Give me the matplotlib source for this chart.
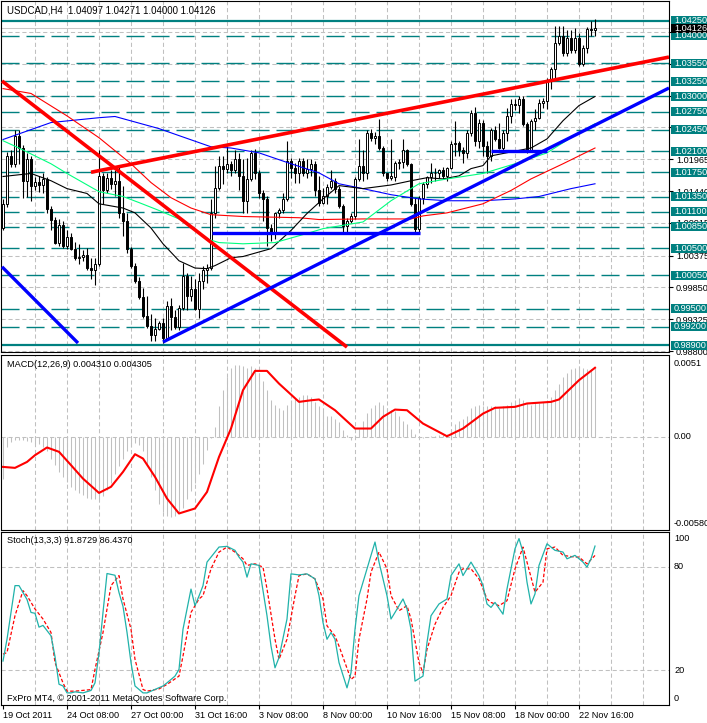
import numpy as np
import matplotlib.pyplot as plt
from matplotlib.patches import Rectangle
from matplotlib.transforms import blended_transform_factory, ScaledTranslation

plt.rcParams['font.family'] = ['Liberation Sans', 'DejaVu Sans']
plt.rcParams['lines.scale_dashes'] = False

# ---------------- price data (USDCAD H4) ----------------
opens = [1.0083, 1.0123, 1.0202, 1.0189, 1.0234, 1.0215, 1.0161, 1.0197, 1.0153, 1.0159,
         1.0154, 1.0164, 1.0115, 1.0097, 1.0059, 1.0088, 1.0054, 1.0069, 1.0049, 1.0034,
         1.0036, 1.0039, 1.0017, 1.0014, 1.0024, 1.0169, 1.0145, 1.0166, 1.0156, 1.0161,
         1.0107, 1.0095, 1.0049, 1.0021, 0.9996, 0.9970, 0.9938, 0.9922, 0.9907, 0.9917,
         0.9927, 0.9902, 0.9955, 0.9937, 0.9920, 0.9951, 1.0004, 0.9971, 0.9983, 0.9950,
         0.9996, 1.0013, 1.0017, 1.0107, 1.0149, 1.0186, 1.0181, 1.0189, 1.0179, 1.0197,
         1.0169, 1.0128, 1.0164, 1.0206, 1.0173, 1.0140, 1.0131, 1.0083, 1.0075, 1.0107,
         1.0112, 1.0131, 1.0194, 1.0182, 1.0173, 1.0194, 1.0173, 1.0181, 1.0189, 1.0145,
         1.0125, 1.0136, 1.0151, 1.0161, 1.0148, 1.0120, 1.0087, 1.0095, 1.0103, 1.0164,
         1.0186, 1.0173, 1.0240, 1.0232, 1.0235, 1.0215, 1.0173, 1.0166, 1.0168, 1.0191,
         1.0192, 1.0211, 1.0189, 1.0123, 1.0082, 1.0133, 1.0156, 1.0168, 1.0173, 1.0174,
         1.0178, 1.0169, 1.0182, 1.0222, 1.0224, 1.0212, 1.0207, 1.0239, 1.0273, 1.0227,
         1.0257, 1.0219, 1.0202, 1.0244, 1.0230, 1.0215, 1.0239, 1.0268, 1.0288, 1.0286,
         1.0296, 1.0255, 1.0211, 1.0260, 1.0265, 1.0290, 1.0293, 1.0326, 1.0346, 1.0389,
         1.0399, 1.0372, 1.0397, 1.0376, 1.0397, 1.0354, 1.0380, 1.0412, 1.04097]
highs = [1.0131, 1.0209, 1.0211, 1.0244, 1.0245, 1.0220, 1.0207, 1.0202, 1.0168, 1.0169,
         1.0174, 1.0168, 1.0120, 1.0102, 1.0098, 1.0095, 1.0079, 1.0074, 1.0060, 1.0057,
         1.0046, 1.0050, 1.0034, 1.0034, 1.0211, 1.0174, 1.0174, 1.0178, 1.0178, 1.0186,
         1.0153, 1.0108, 1.0052, 1.0026, 1.0003, 0.9984, 0.9971, 0.9942, 0.9935, 0.9930,
         0.9935, 0.9963, 0.9968, 0.9947, 0.9956, 1.0026, 1.0008, 1.0004, 0.9999, 1.0008,
         1.0021, 1.0024, 1.0131, 1.0186, 1.0202, 1.0202, 1.0219, 1.0194, 1.0211, 1.0207,
         1.0197, 1.0199, 1.0211, 1.0214, 1.0178, 1.0145, 1.0136, 1.0090, 1.0110, 1.0116,
         1.0141, 1.0227, 1.0199, 1.0191, 1.0199, 1.0199, 1.0197, 1.0197, 1.0194, 1.0169,
         1.0149, 1.0156, 1.0178, 1.0166, 1.0153, 1.0123, 1.0100, 1.0108, 1.0168, 1.0230,
         1.0211, 1.0244, 1.0247, 1.0242, 1.0263, 1.0219, 1.0174, 1.0230, 1.0194, 1.0197,
         1.0230, 1.0214, 1.0191, 1.0133, 1.0136, 1.0159, 1.0169, 1.0191, 1.0182, 1.0181,
         1.0184, 1.0184, 1.0227, 1.0260, 1.0227, 1.0217, 1.0244, 1.0277, 1.0283, 1.0263,
         1.0262, 1.0227, 1.0248, 1.0252, 1.0257, 1.0244, 1.0281, 1.0296, 1.0296, 1.0300,
         1.0301, 1.0258, 1.0263, 1.0280, 1.0296, 1.0298, 1.0331, 1.0349, 1.0417, 1.0417,
         1.0417, 1.0409, 1.0409, 1.0413, 1.0404, 1.0385, 1.0415, 1.0425, 1.04271]
lows = [1.0080, 1.0118, 1.0184, 1.0184, 1.0189, 1.0133, 1.0135, 1.0128, 1.0145, 1.0143,
        1.0141, 1.0108, 1.0079, 1.0057, 1.0054, 1.0050, 1.0049, 1.0046, 1.0031, 1.0024,
        1.0029, 1.0013, 0.9999, 0.9989, 1.0021, 1.0123, 1.0141, 1.0148, 1.0136, 1.0100,
        1.0070, 1.0041, 1.0017, 0.9993, 0.9966, 0.9935, 0.9918, 0.9897, 0.9897, 0.9914,
        0.9894, 0.9899, 0.9914, 0.9917, 0.9915, 0.9948, 0.9947, 0.9963, 0.9947, 0.9935,
        0.9983, 0.9993, 1.0013, 1.0100, 1.0145, 1.0156, 1.0174, 1.0169, 1.0174, 1.0145,
        1.0107, 1.0107, 1.0161, 1.0164, 1.0133, 1.0095, 1.0054, 1.0062, 1.0065, 1.0100,
        1.0107, 1.0128, 1.0166, 1.0158, 1.0158, 1.0169, 1.0166, 1.0169, 1.0136, 1.0120,
        1.0123, 1.0123, 1.0148, 1.0141, 1.0116, 1.0074, 1.0074, 1.0092, 1.0098, 1.0161,
        1.0161, 1.0164, 1.0227, 1.0222, 1.0211, 1.0169, 1.0161, 1.0163, 1.0161, 1.0181,
        1.0182, 1.0186, 1.0120, 1.0077, 1.0074, 1.0123, 1.0149, 1.0158, 1.0161, 1.0166,
        1.0164, 1.0161, 1.0181, 1.0202, 1.0202, 1.0191, 1.0199, 1.0235, 1.0219, 1.0215,
        1.0201, 1.0173, 1.0194, 1.0227, 1.0214, 1.0211, 1.0227, 1.0257, 1.0277, 1.0272,
        1.0252, 1.0207, 1.0211, 1.0244, 1.0263, 1.0281, 1.0280, 1.0313, 1.0331, 1.0385,
        1.0367, 1.0367, 1.0372, 1.0372, 1.0351, 1.0351, 1.0372, 1.0400, 1.04000]
closes = [1.0123, 1.0202, 1.0189, 1.0234, 1.0215, 1.0161, 1.0197, 1.0153, 1.0159, 1.0154,
          1.0164, 1.0115, 1.0097, 1.0059, 1.0088, 1.0054, 1.0069, 1.0049, 1.0034, 1.0036,
          1.0039, 1.0017, 1.0014, 1.0024, 1.0169, 1.0145, 1.0166, 1.0156, 1.0161, 1.0107,
          1.0095, 1.0049, 1.0021, 0.9996, 0.9970, 0.9938, 0.9922, 0.9907, 0.9917, 0.9927,
          0.9902, 0.9955, 0.9937, 0.9920, 0.9951, 1.0004, 0.9971, 0.9983, 0.9950, 0.9996,
          1.0013, 1.0017, 1.0107, 1.0149, 1.0186, 1.0181, 1.0189, 1.0179, 1.0197, 1.0169,
          1.0128, 1.0164, 1.0206, 1.0173, 1.0140, 1.0131, 1.0083, 1.0075, 1.0107, 1.0112,
          1.0131, 1.0194, 1.0182, 1.0173, 1.0194, 1.0173, 1.0181, 1.0189, 1.0145, 1.0125,
          1.0136, 1.0151, 1.0161, 1.0148, 1.0120, 1.0087, 1.0095, 1.0103, 1.0164, 1.0186,
          1.0173, 1.0240, 1.0232, 1.0235, 1.0215, 1.0173, 1.0166, 1.0168, 1.0191, 1.0192,
          1.0211, 1.0189, 1.0123, 1.0082, 1.0133, 1.0156, 1.0168, 1.0173, 1.0174, 1.0178,
          1.0169, 1.0182, 1.0222, 1.0224, 1.0212, 1.0207, 1.0239, 1.0273, 1.0227, 1.0257,
          1.0219, 1.0202, 1.0244, 1.0230, 1.0215, 1.0239, 1.0268, 1.0288, 1.0286, 1.0296,
          1.0255, 1.0211, 1.0260, 1.0265, 1.0290, 1.0293, 1.0326, 1.0346, 1.0389, 1.0399,
          1.0372, 1.0397, 1.0376, 1.0397, 1.0354, 1.0380, 1.0412, 1.0409, 1.04126]

# moving averages (bar index, price)
ma_blue_x = [0, 12, 24, 28, 39, 52, 57, 64, 72, 79, 84, 90, 97, 104, 111, 120, 128, 134, 142, 148]
ma_blue_y = [1.0229, 1.0257, 1.0265, 1.0267, 1.0247, 1.0217, 1.0215, 1.0207, 1.0189, 1.0174,
             1.0156, 1.0148, 1.0138, 1.0131, 1.0128, 1.0128, 1.0131, 1.0135, 1.0148, 1.0156]
ma_red_x = [0, 7, 16, 24, 32, 37, 42, 47, 52, 60, 74, 79, 90, 102, 105, 111, 120, 127, 132, 140, 148]
ma_red_y = [1.0313, 1.0305, 1.0268, 1.0232, 1.0189, 1.0158, 1.0133, 1.0116, 1.0105, 1.0102,
            1.0100, 1.0097, 1.0098, 1.0098, 1.0103, 1.0108, 1.0123, 1.0145, 1.0164, 1.0189, 1.0215]
ma_black_x = [0, 7, 12, 16, 21, 24, 30, 33, 37, 40, 44, 48, 51, 53, 57, 60, 67, 72, 76, 80,
              84, 90, 97, 102, 106, 110, 114, 117, 120, 122, 132, 136, 140, 144, 148]
ma_black_y = [1.0168, 1.0173, 1.0161, 1.0148, 1.0140, 1.0123, 1.0116, 1.0108, 1.0083, 1.0057,
              1.0029, 1.0017, 1.0016, 1.0021, 1.0034, 1.0036, 1.0049, 1.0079, 1.0107, 1.0131,
              1.0153, 1.0148, 1.0154, 1.0161, 1.0166, 1.0164, 1.0169, 1.0181, 1.0186, 1.0202,
              1.0215, 1.0230, 1.0260, 1.0285, 1.0300]
ma_green_x = [0, 4, 8, 12, 16, 20, 24, 30, 34, 39, 44, 48, 51, 54, 60, 68, 76, 80, 90, 97,
              104, 111, 120, 128, 136, 142, 148]
ma_green_y = [1.0227, 1.0215, 1.0202, 1.0189, 1.0173, 1.0158, 1.0143, 1.0135, 1.0125, 1.0112,
              1.0098, 1.0079, 1.0065, 1.0059, 1.0057, 1.0059, 1.0074, 1.0082, 1.0093, 1.0128,
              1.0156, 1.0164, 1.0173, 1.0189, 1.0207, 1.0232, 1.0255]

# horizontal levels, grid and trend lines
levels = [1.0425, 1.0400, 1.0355, 1.0325, 1.0300, 1.0275, 1.0245, 1.0210, 1.0175,
          1.0135, 1.0110, 1.0085, 1.0050, 1.0005, 0.9950, 0.9920, 0.9890]
solid_levels = [1.0425, 0.9890]
grid_prices = [0.98800, 0.99325, 0.99850, 1.00375, 1.00915, 1.01440, 1.01965,
               1.02490, 1.03015, 1.03540, 1.04065]
last_price = 1.04126
red_lines = [((-0.25, 1.03255), (86, 0.98866)), ((22, 1.0175), (166.5, 1.0365))]
blue_lines = [((-0.25, 1.0019), (18.75, 0.98933)), ((40, 0.9895), (166.5, 1.0314)),
              ((52.25, 1.0075), (104.25, 1.0075)), ((122, 1.0210), (136, 1.0210))]

# MACD
macd_hist = [-0.0026, -0.0006, -0.0003, -0.0002, -0.0002, -0.0002, -0.00025, -0.0003, -0.0004, -0.00045,
             -0.0006, -0.0009, -0.00135, -0.00175, -0.0022, -0.0025, -0.0028, -0.0031, -0.0033, -0.0035,
             -0.0036, -0.0038, -0.0039, -0.0039, -0.0039, -0.0037, -0.0033, -0.0029, -0.0023, -0.0018,
             -0.00135, -0.0009, -0.0006, -0.0004, -0.0005, -0.0009, -0.0017, -0.0025, -0.0033, -0.0042,
             -0.0047, -0.0049, -0.0050, -0.0049, -0.0047, -0.0044, -0.0039, -0.0034, -0.0029, -0.0023,
             -0.0017, -0.0008, -0.0001, 0.0006, 0.0019, 0.0029, 0.0037, 0.0043, 0.0045, 0.0045,
             0.0044, 0.0043, 0.0044, 0.0043, 0.0040, 0.0035, 0.0029, 0.0023, 0.0020, 0.0018,
             0.0017, 0.0020, 0.0023, 0.0024, 0.0025, 0.0026, 0.0026, 0.0025, 0.0022, 0.0019,
             0.0016, 0.0013, 0.0013, 0.0011, 0.0009, 0.0004, 0.0001, -0.0002, 0.0001, 0.0005,
             0.0010, 0.0015, 0.0018, 0.0020, 0.0022, 0.0020, 0.0018, 0.0017, 0.0016, 0.0013,
             0.0010, 0.0008, 0.0005, 0.0002, -0.0001, -0.0001, 0.00002, 0.00004, 0.00004, 0.0001,
             0.0001, 0.0002, 0.0005, 0.0008, 0.0010, 0.0011, 0.0013, 0.0018, 0.0019, 0.0020,
             0.0019, 0.0019, 0.0019, 0.0019, 0.0018, 0.0019, 0.0020, 0.0022, 0.0023, 0.0024,
             0.0023, 0.0021, 0.0020, 0.0021, 0.0021, 0.0022, 0.0023, 0.0025, 0.0029, 0.0033,
             0.0037, 0.0040, 0.0042, 0.0043, 0.0044, 0.0043, 0.0042, 0.0042, 0.00431]
macd_sig_x = [0, 3, 6, 8, 11, 14, 17, 20, 24, 27, 30, 33, 35, 38, 41, 44, 48, 51, 54, 57, 60, 63,
              66, 69, 74, 77, 79, 83, 88, 92, 95, 98, 101, 105, 111, 115, 120, 123, 128, 131,
              137, 139, 144, 148]
macd_sig_y = [-0.00187, -0.00193, -0.00156, -0.00114, -0.00066, -0.00093, -0.00176, -0.00260,
              -0.00349, -0.00311, -0.00218, -0.00108, -0.00135, -0.00249, -0.00384, -0.00477,
              -0.00446, -0.00343, -0.00125, 0.00052, 0.00291, 0.00411, 0.00411, 0.00332,
              0.00218, 0.00228, 0.00233, 0.00166, 0.00052, 0.00052, 0.00125, 0.00170, 0.00166,
              0.00083, 0.00004, 0.00052, 0.00145, 0.00181, 0.00187, 0.00208, 0.00218, 0.00233,
              0.00353, 0.004305]

# Stochastic
st_x = [0, 1, 3, 4, 6, 7, 8, 9, 10, 12, 13, 14, 15, 16, 17, 18, 20, 22, 23, 24,
        25, 26, 28, 29, 30, 31, 32, 33, 35, 36, 38, 40, 41, 43, 44, 45, 47, 48, 49, 50,
        51, 53, 54, 56, 58, 59, 60, 61, 62, 64, 66, 67, 68, 69, 71, 72, 74, 76, 78, 79,
        80, 81, 82, 83, 84, 86, 87, 88, 89, 91, 92, 93, 94, 96, 97, 98, 100, 101, 102, 103,
        105, 106, 107, 109, 111, 112, 114, 115, 117, 119, 120, 121, 122, 123, 125, 126, 128, 129, 130, 131,
        132, 133, 134, 136, 138, 140, 141, 143, 145, 146, 147, 148]
st_main = [25.4, 38, 69, 69, 61, 53.5, 53, 45, 46, 40, 28, 12, 11, 7, 7, 7.6, 7, 8.4, 12.8, 30,
           53.5, 76, 75, 65, 57, 42, 24.5, 11, 7, 7, 9, 11, 12.8, 16.7, 20.6, 43.8, 67, 57.4, 63, 69,
           82.6, 88.4, 91.3, 91.7, 89.4, 85.5, 82.6, 73.9, 81.6, 80.7, 51.6, 34.1, 21.5, 27.4, 49.7,
           75.8, 75.2, 75.8, 72.9, 63.2, 47.7, 38, 41.9, 38, 24.5, 9.9, 18.6, 43.8, 63.2, 78.7,
           86.5, 94.2, 82.6, 63.2, 49.7, 53.5, 61.3, 55.5, 43.8, 13.8, 16.7, 36.1, 51.6, 58.4, 61.3,
           74.8, 81.6, 74.8, 82.6, 74.8, 69, 58.4, 56.4, 59.3, 52.5, 67.1, 90.3, 96.2, 88.4, 71,
           58.4, 64.2, 80.7, 93.2, 89.4, 88.4, 84.5, 86.5, 82.6, 79.7, 84.5, 91.87]
ss_x = [0, 1, 3, 5, 6, 8, 10, 12, 13, 15, 16, 18, 22, 23, 25, 27, 29, 30, 32, 33,
        35, 36, 39, 41, 44, 45, 47, 49, 50, 52, 54, 56, 58, 60, 61, 63, 65, 66, 68, 69,
        71, 73, 74, 76, 78, 80, 81, 83, 84, 87, 88, 89, 91, 92, 94, 96, 97, 99, 101, 102,
        104, 105, 106, 108, 110, 112, 114, 115, 117, 119, 121, 122, 124, 126, 128, 130, 131, 133, 135, 136,
        138, 140, 143, 144, 146, 148]
st_signal = [29.4, 30.3, 51.6, 66.1, 63.2, 55.5, 49.7, 41.9, 24.5, 12.8, 8, 8, 8.9, 20.6, 41.9, 69, 74.8, 61.3, 43.8, 26.4,
             9, 8, 9.3, 11.9, 16.7, 28.3, 53.5, 61.3, 63.2, 78.7, 88.4, 91.3, 88.4, 84.5, 80.7, 81.6, 79.7, 67.1, 38, 26.4,
             38, 63.2, 74.8, 75.8, 72.9, 61.3, 45.8, 39.9, 34.1, 14.8, 16.7, 38, 61.3, 76.8, 88.4, 78.7, 63.2, 54.5, 57.4, 49.7,
             24.5, 18.6, 32.2, 46.7, 56.4, 63.2, 76.8, 78.7, 78.7, 72.9, 61.3, 59.3, 57.4, 60.3, 78.7, 91.3, 82.6, 65.2, 71, 90.3,
             91.3, 86.5, 85.5, 85.5, 81.6, 86.44]

date_pos = [0, 16, 32, 48, 64, 80, 96, 112, 128, 144]
date_labels = ['19 Oct 2011', '24 Oct 08:00', '27 Oct 00:00', '31 Oct 16:00', '3 Nov 08:00',
               '8 Nov 00:00', '10 Nov 16:00', '15 Nov 08:00', '18 Nov 00:00', '22 Nov 16:00']

TEAL = '#008080'
GRID = '#c0c0c0'
FS = 6.6

fig = plt.figure(figsize=(7.07, 7.23), dpi=100)
W, H = 707, 723
ax1 = fig.add_axes([1 / W, (H - 352) / H, 668 / W, 351 / H])
ax2 = fig.add_axes([1 / W, (H - 530) / H, 668 / W, 175 / H])
ax3 = fig.add_axes([1 / W, (H - 705) / H, 668 / W, 173 / H])

for ax in (ax1, ax2, ax3):
    ax.set_xlim(-0.5, 166.5)
    for s in ax.spines.values():
        s.set_linewidth(0.8)
        s.set_color('black')
    for k in range(8, 167, 8):
        ax.axvline(k, color=GRID, lw=0.75, ls=(0, (3, 2)), zorder=0)

def right_tf(ax, px=5):
    return blended_transform_factory(ax.transAxes, ax.transData) + \
        ScaledTranslation(px / 100, 0, fig.dpi_scale_trans)

# ---------------- main panel ----------------
ax1.set_ylim(0.98785, 1.04575)
for p in grid_prices:
    ax1.axhline(p, color=GRID, lw=0.75, ls=(0, (3, 2)), zorder=0)
for p in levels:
    if p in solid_levels:
        ax1.axhline(p, color=TEAL, lw=1.6, zorder=2)
    else:
        ax1.axhline(p, color=TEAL, lw=1.0, ls=(0, (13, 5)), zorder=2)
ax1.axhline(last_price, color='#c8c8c8', lw=0.75, zorder=1)

x = np.arange(len(closes))
o = np.array(opens)
c = np.array(closes)
hi = np.array(highs)
lo = np.array(lows)
up = c >= o
ax1.vlines(x, lo, hi, color='black', lw=0.8, zorder=3)
body_lo = np.minimum(o, c)
body_h = np.maximum(np.abs(c - o), 0.00004)
ax1.bar(x[up], body_h[up], bottom=body_lo[up], width=0.5, color='white',
        edgecolor='black', lw=0.7, zorder=3.5)
ax1.bar(x[~up], body_h[~up], bottom=body_lo[~up], width=0.5, color='black',
        edgecolor='black', lw=0.7, zorder=3.5)

ax1.plot(ma_blue_x, ma_blue_y, color='#0000ff', lw=0.8, zorder=4)
ax1.plot(ma_red_x, ma_red_y, color='#ff0000', lw=0.8, zorder=4)
ax1.plot(ma_black_x, ma_black_y, color='black', lw=0.8, zorder=4)
ax1.plot(ma_green_x, ma_green_y, color='#00ff7f', lw=0.8, zorder=4)

for (x0, y0), (x1, y1) in red_lines:
    ax1.plot([x0, x1], [y0, y1], color='#ff0000', lw=2.6, zorder=5, solid_capstyle='butt')
for (x0, y0), (x1, y1) in blue_lines:
    ax1.plot([x0, x1], [y0, y1], color='#0000ff', lw=2.4, zorder=5, solid_capstyle='butt')

ax1.set_xticks([])
ax1.set_yticks(grid_prices)
ax1.set_yticklabels([f'{p:.5f}' for p in grid_prices])
ax1.yaxis.tick_right()
ax1.tick_params(axis='y', length=3, width=0.8, pad=2, labelsize=FS)

box_h = 9 / 6062
bt = blended_transform_factory(ax1.transAxes, ax1.transData)
for p in levels:
    ax1.add_patch(Rectangle((1.003, p - box_h / 2), 0.1, box_h, transform=bt,
                            facecolor=TEAL, edgecolor='none', clip_on=False, zorder=6))
    ax1.text(1.0, p, f'{p:.5f}', transform=right_tf(ax1), color='white', fontsize=FS,
             va='center', ha='left', clip_on=False, zorder=7)
ax1.add_patch(Rectangle((1.003, last_price - box_h / 2), 0.1, box_h, transform=bt,
                        facecolor='black', edgecolor='none', clip_on=False, zorder=6))
ax1.text(1.0, last_price, f'{last_price:.5f}', transform=right_tf(ax1), color='white',
         fontsize=FS, va='center', ha='left', clip_on=False, zorder=7)

ax1.text(0.009, 0.974, 'USDCAD,H4  1.04097 1.04271 1.04000 1.04126', transform=ax1.transAxes,
         fontsize=6.9, va='center', ha='left')

# ---------------- MACD ----------------
ax2.set_ylim(-0.0058, 0.0051)
ax2.axhline(0, color=GRID, lw=0.75, ls=(0, (3, 2)), zorder=0)
ax2.vlines(x, 0, macd_hist, color='#c0c0c0', lw=0.75, zorder=2)
ax2.plot(macd_sig_x, macd_sig_y, color='#ff0000', lw=1.5, zorder=3)
ax2.set_xticks([])
ax2.set_yticks([])
ax2.text(0.009, 0.943, 'MACD(12,26,9) 0.004310 0.004305', transform=ax2.transAxes,
         fontsize=FS, va='center', ha='left')
ta = blended_transform_factory(ax2.transAxes, ax2.transAxes) + ScaledTranslation(5 / 100, 0, fig.dpi_scale_trans)
ax2.text(1.0, 0.954, '0.0051', transform=ta, fontsize=FS, va='center', ha='left', clip_on=False)
ax2.text(1.0, 0.0, '0.00', transform=right_tf(ax2), fontsize=FS, va='center', ha='left', clip_on=False)
ax2.text(1.0, 0.04, '-0.00580', transform=ta, fontsize=FS, va='center', ha='left', clip_on=False)

# ---------------- Stochastic ----------------
ax3.set_ylim(0, 100)
for lv in (80, 20):
    ax3.axhline(lv, color=GRID, lw=0.75, ls=(0, (3, 2)), zorder=0)
ax3.plot(st_x, st_main, color='#20b2aa', lw=0.9, zorder=3)
ax3.plot(ss_x, st_signal, color='#ff0000', lw=0.9, ls=(0, (2.5, 1.5)), zorder=2)
ax3.set_yticks([])
ax3.text(0.009, 0.948, 'Stoch(13,3,3) 91.8729 86.4370', transform=ax3.transAxes,
         fontsize=FS, va='center', ha='left')
ax3.text(0.009, 0.04, 'FxPro MT4, \u00a9 2001-2011 MetaQuotes Software Corp.', transform=ax3.transAxes,
         fontsize=FS, va='center', ha='left')
tb = blended_transform_factory(ax3.transAxes, ax3.transAxes) + ScaledTranslation(5 / 100, 0, fig.dpi_scale_trans)
ax3.text(1.0, 0.96, '100', transform=tb, fontsize=FS, va='center', ha='left', clip_on=False)
ax3.text(1.0, 80, '80', transform=right_tf(ax3), fontsize=FS, va='center', ha='left', clip_on=False)
ax3.text(1.0, 20, '20', transform=right_tf(ax3), fontsize=FS, va='center', ha='left', clip_on=False)
ax3.text(1.0, 0.035, '0', transform=tb, fontsize=FS, va='center', ha='left', clip_on=False)

ax3.set_xticks(date_pos)
ax3.set_xticklabels(date_labels, ha='left')
ax3.tick_params(axis='x', length=3, width=0.8, pad=1.5, labelsize=FS)

fig.savefig('out.png', dpi=100)
